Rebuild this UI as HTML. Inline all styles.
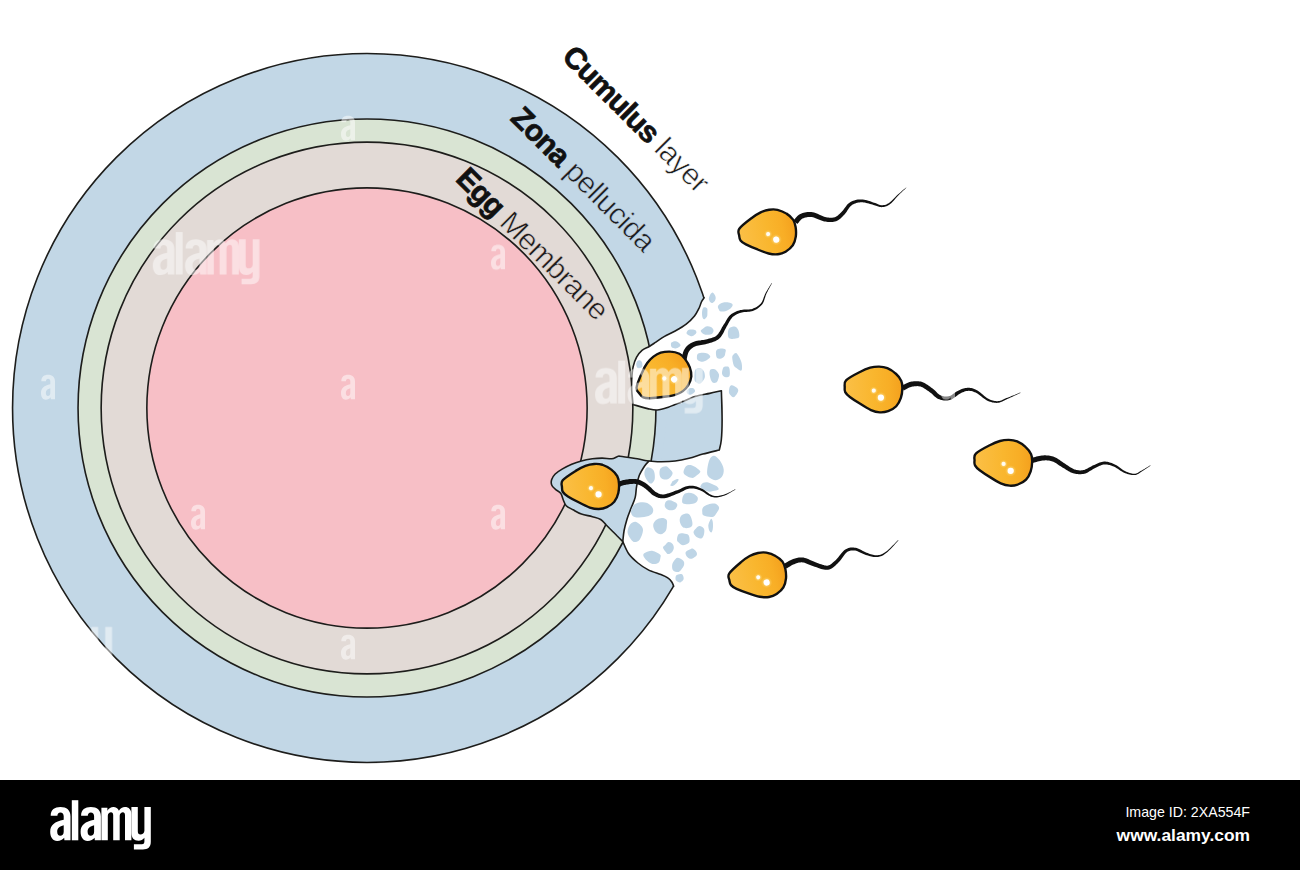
<!DOCTYPE html>
<html><head><meta charset="utf-8">
<style>
html,body{margin:0;padding:0;background:#fff;width:1300px;height:870px;overflow:hidden}
svg{display:block}
text{font-family:"Liberation Sans",sans-serif}
</style></head>
<body>
<svg width="1300" height="870" viewBox="0 0 1300 870">
<defs>
<linearGradient id="hg" x1="-35" y1="0" x2="24" y2="0" gradientUnits="userSpaceOnUse">
<stop offset="0" stop-color="#fbc048"/><stop offset="0.5" stop-color="#f9b62e"/><stop offset="0.75" stop-color="#f8ae26"/><stop offset="1" stop-color="#f39e1c"/>
</linearGradient>
<radialGradient id="glow"><stop offset="0" stop-color="#fff3c0" stop-opacity="0.9"/><stop offset="1" stop-color="#fde08a" stop-opacity="0"/></radialGradient>
<g id="head"><path d="M-33.4,-2.7C-33.2,-4.6 -34.5,-7 -32,-9.4C-29.6,-11.8 -22.4,-15.3 -18.5,-17.2C-14.6,-19.2 -11.7,-20.3 -8.6,-21.1C-5.5,-21.9 -2.7,-22.1 0,-22C2.7,-21.9 5.3,-21.5 7.9,-20.4C10.5,-19.2 13.6,-17.2 15.8,-15.1C18,-13.1 20,-10.3 21.1,-7.9C22.1,-5.5 22.1,-3.4 22,-0.7C21.9,2.1 21.4,5.6 20.4,8.5C19.4,11.3 17.9,14.3 15.8,16.4C13.8,18.5 10.6,20 7.9,21C5.3,21.9 2.7,22.2 0,22C-2.7,21.8 -5.5,21 -8.6,19.6C-11.6,18.2 -15.1,15.9 -18.4,13.7C-21.8,11.6 -26.2,8.6 -28.6,6.7C-31.1,4.7 -32.2,3.5 -33,1.9C-33.8,0.4 -33.6,-0.8 -33.4,-2.7Z" fill="url(#hg)" stroke="#111" stroke-width="2.3"/>
<circle cx="-5.5" cy="1" r="4" fill="url(#glow)"/><circle cx="1.2" cy="7.8" r="5.5" fill="url(#glow)"/>
<circle cx="-5.5" cy="1" r="2" fill="#fff" opacity="0.9"/><circle cx="1.2" cy="7.8" r="3" fill="#fff"/></g>
</defs>
<defs><g id="logo"><path d="M0.5,-24.5C0.5,-30.5 4.5,-33.2 10.2,-33.2C16.5,-33.2 20.3,-30 20.3,-24L20.3,0L14.2,0L14,-2.5C12.5,-0.5 10,0.6 7,0.6C2.5,0.6 0,-3 0,-8.5C0,-15.5 4.5,-18.5 13.5,-20.5L13.5,-24C13.5,-26.5 12.2,-27.8 10.2,-27.8C8.2,-27.8 7.2,-26.5 7.2,-24.5ZM13.5,-15C9.5,-14 7,-12.5 7,-8.5C7,-5.8 8.3,-4.5 10,-4.5C12,-4.5 13.5,-6 13.5,-8.5Z" fill-rule="evenodd"/><path d="M0,-40.1L6.5,-40.1L6.5,0L0,0Z" transform="translate(21.6 0)"/><path d="M0.5,-24.5C0.5,-30.5 4.5,-33.2 10.2,-33.2C16.5,-33.2 20.3,-30 20.3,-24L20.3,0L14.2,0L14,-2.5C12.5,-0.5 10,0.6 7,0.6C2.5,0.6 0,-3 0,-8.5C0,-15.5 4.5,-18.5 13.5,-20.5L13.5,-24C13.5,-26.5 12.2,-27.8 10.2,-27.8C8.2,-27.8 7.2,-26.5 7.2,-24.5ZM13.5,-15C9.5,-14 7,-12.5 7,-8.5C7,-5.8 8.3,-4.5 10,-4.5C12,-4.5 13.5,-6 13.5,-8.5Z" fill-rule="evenodd" transform="translate(30.4 0)"/><path d="M0,0L0,-32.5L6,-32.5L6,-29.5C7.5,-32 9.5,-33.2 12,-33.2C14.5,-33.2 16.5,-32 17.5,-29.5C19,-32 21,-33.2 23.5,-33.2C27.5,-33.2 30,-30.5 30,-26L30,0L23.6,0L23.6,-25C23.6,-27 22.8,-28 21.5,-28C20,-28 18.3,-26.8 18.3,-24.5L18.3,0L11.8,0L11.8,-25C11.8,-27 11,-28 9.6,-28C8,-28 6.4,-26.8 6.4,-24.5L6.4,0Z" transform="translate(51.2 0)"/><path d="M0,-33.2L6.4,-33.2L6.4,-9C6.4,-6.8 7.4,-5.8 9,-5.8C11,-5.8 13,-7.2 13,-9.5L13,-33.2L19.4,-33.2L19.4,1.5C19.4,7 16.5,9.2 11.5,9.2L2.5,9.2L2.5,4L10.5,4C12.3,4 13,3 13,1L13,-2.5C11.5,-0.5 9.5,0.5 7.2,0.5C2.5,0.5 0,-2.5 0,-7.5Z" transform="translate(81.2 0)"/></g><path id="ga" d="M0.5,-24.5C0.5,-30.5 4.5,-33.2 10.2,-33.2C16.5,-33.2 20.3,-30 20.3,-24L20.3,0L14.2,0L14,-2.5C12.5,-0.5 10,0.6 7,0.6C2.5,0.6 0,-3 0,-8.5C0,-15.5 4.5,-18.5 13.5,-20.5L13.5,-24C13.5,-26.5 12.2,-27.8 10.2,-27.8C8.2,-27.8 7.2,-26.5 7.2,-24.5ZM13.5,-15C9.5,-14 7,-12.5 7,-8.5C7,-5.8 8.3,-4.5 10,-4.5C12,-4.5 13.5,-6 13.5,-8.5Z" fill-rule="evenodd"/></defs>
<rect width="1300" height="870" fill="#fff"/>
<g stroke="#1d1d1b" stroke-width="1.6">
<circle cx="367.0" cy="408.0" r="354.45" fill="#c2d7e6"/>
<circle cx="367.0" cy="408.0" r="288.95" fill="#d9e4d3"/>
<circle cx="367.0" cy="408.0" r="265.85" fill="#e2dad6"/>
<circle cx="367.0" cy="408.0" r="220.15" fill="#f7bfc6"/>
</g>
<path d="M704.1,297.9C703.6,298.6 702.2,300.4 701.4,302C700.6,303.6 700.4,305.3 699.3,307.6C698.1,309.9 696.7,313.1 694.5,315.9C692.3,318.6 689.4,321.6 686.2,324.1C683,326.6 678.9,328.9 675.2,331C671.5,333.1 667.3,334.8 664.1,336.6C660.9,338.5 658.3,340.5 655.9,342.1C653.5,343.7 652,344.8 649.7,346.2C647.4,347.6 644.2,348.5 642,350.3C639.8,352.1 638.1,354.4 636.6,357.2C635.1,360 633.9,363.2 633.1,366.9C632.3,370.6 631.9,375.4 631.7,379.3C631.5,383.2 631.6,386.9 631.7,390.3C631.9,393.8 632.4,397.6 632.6,400C632.8,402.4 633,403.8 633.1,404.5C635.5,405.2 643.6,407.7 647.6,408.6C651.6,409.5 653.8,410.2 657.2,410C660.7,409.8 664.1,408.6 668.3,407.2C672.4,405.8 677.5,403.5 682.1,401.7C686.7,399.9 691.3,397.6 695.9,396.2C700.5,394.8 705.5,394.3 709.7,393.4C714,392.5 719.5,391.1 721.4,390.7L770,390.7L770,297.9Z" fill="#fff"/>
<path d="M719.3,450C716.5,450.7 707.8,452.7 702.8,454.1C697.8,455.5 693.6,457.2 689,458.3C684.4,459.4 679.8,460.4 675.2,461C670.6,461.6 665.8,461.7 661.4,461.7C657,461.7 651.1,461.1 649,461C648.3,461.8 646.4,463.3 644.8,465.7C643.2,468.1 640.7,471.9 639.3,475.3C637.9,478.8 637.3,482.7 636.6,486.4C635.9,490.1 636.1,493.7 635.2,497.4C634.3,501.1 632.4,504.7 631,508.4C629.6,512.1 628,515.8 626.9,519.5C625.8,523.2 624.8,526.8 624.1,530.5C623.4,534.2 623,539.8 622.8,541.6C623.8,543.6 626.2,550.2 628.7,553.8C631.2,557.4 634.6,560.3 637.9,563C641.2,565.7 644.5,568 648.3,569.9C652.1,571.8 657.6,573.2 660.9,574.5C664.1,575.8 666,576.6 667.8,577.9C669.6,579.1 670.8,580.6 671.8,582C672.8,583.4 673.3,585.3 673.6,586L780,586L780,450Z" fill="#fff"/>
<path d="M668.3,407.2C670.6,406.3 677.5,403.5 682.1,401.7C686.7,399.9 691.3,397.6 695.9,396.2C700.5,394.8 705.5,394.3 709.7,393.4C714,392.5 719.5,391.1 721.4,390.7C721.5,395.6 722.1,411.8 722.1,420C722.1,428.2 721.8,435 721.3,440C720.8,445 719.6,448.3 719.3,450C716.5,450.7 707.8,452.7 702.8,454.1C697.8,455.5 693.6,457.2 689,458.3C684.4,459.4 679.8,460.4 675.2,461C670.6,461.6 663.7,461.6 661.4,461.7Z" fill="#c2d7e6"/>
<path d="M649,461C646.5,460.6 638.6,459.1 633.8,458.3C629,457.5 622.8,456.5 620,456.2C617.2,455.9 618.6,456.3 617.2,456.7C615.8,457.1 614.2,458.6 611.7,458.8C609.2,459 605.3,458.1 602.1,458.1C598.9,458.1 595.9,458.3 592.4,458.8C588.9,459.3 584.8,460 581.4,460.9C578,461.8 574.9,462.9 571.7,464.3C568.5,465.7 564.9,467.5 562.1,469.1C559.4,470.7 556.9,472.3 555.2,474C553.5,475.7 552.3,477.7 551.7,479.5C551.1,481.3 551.1,483.4 551.7,485C552.3,486.6 553.7,487.7 555.2,489.1C556.7,490.5 559.3,491.5 560.7,493.3C562.1,495.1 562.5,498.1 563.4,500.2C564.3,502.3 564.6,504.1 566.2,505.7C567.8,507.3 570.6,508.4 573.1,509.8C575.6,511.2 578.2,512.9 581.4,514C584.6,515.1 589.2,515.8 592.4,516.7C595.6,517.6 598.4,518.1 600.7,519.5C603,520.9 604.4,523.2 606.2,525C608,526.8 609.9,528.7 611.7,530.5C613.5,532.3 615.4,534.1 617.2,536C619.1,537.9 621.9,540.7 622.8,541.6C623,539.8 623.4,534.2 624.1,530.5C624.8,526.8 625.8,523.2 626.9,519.5C628,515.8 629.6,512.1 631,508.4C632.4,504.7 634.3,501.1 635.2,497.4C636.1,493.7 635.9,490.1 636.6,486.4C637.3,482.7 637.9,478.8 639.3,475.3C640.7,471.9 643.2,468.1 644.8,465.7C646.4,463.3 648.3,461.8 649,461Z" fill="#c2d7e6" stroke="#1d1d1b" stroke-width="1.6" stroke-linejoin="round"/>
<g fill="none" stroke="#1d1d1b" stroke-width="1.6" stroke-linejoin="round" stroke-linecap="round">
<path d="M704.1,297.9C703.6,298.6 702.2,300.4 701.4,302C700.6,303.6 700.4,305.3 699.3,307.6C698.1,309.9 696.7,313.1 694.5,315.9C692.3,318.6 689.4,321.6 686.2,324.1C683,326.6 678.9,328.9 675.2,331C671.5,333.1 667.3,334.8 664.1,336.6C660.9,338.5 658.3,340.5 655.9,342.1C653.5,343.7 652,344.8 649.7,346.2C647.4,347.6 644.2,348.5 642,350.3C639.8,352.1 638.1,354.4 636.6,357.2C635.1,360 633.9,363.2 633.1,366.9C632.3,370.6 631.9,375.4 631.7,379.3C631.5,383.2 631.6,386.9 631.7,390.3C631.9,393.8 632.4,397.6 632.6,400C632.8,402.4 633,403.8 633.1,404.5"/>
<path d="M633.1,404.5C635.5,405.2 643.6,407.7 647.6,408.6C651.6,409.5 653.8,410.2 657.2,410C660.7,409.8 664.1,408.6 668.3,407.2C672.4,405.8 677.5,403.5 682.1,401.7C686.7,399.9 691.3,397.6 695.9,396.2C700.5,394.8 705.5,394.3 709.7,393.4C714,392.5 719.5,391.1 721.4,390.7C721.5,395.6 722.1,411.8 722.1,420C722.1,428.2 721.8,435 721.3,440C720.8,445 719.6,448.3 719.3,450C716.5,450.7 707.8,452.7 702.8,454.1C697.8,455.5 693.6,457.2 689,458.3C684.4,459.4 679.8,460.4 675.2,461C670.6,461.6 665.8,461.7 661.4,461.7C657,461.7 651.1,461.1 649,461"/>
<path d="M622.8,541.6C623.8,543.6 626.2,550.2 628.7,553.8C631.2,557.4 634.6,560.3 637.9,563C641.2,565.7 644.5,568 648.3,569.9C652.1,571.8 657.6,573.2 660.9,574.5C664.1,575.8 666,576.6 667.8,577.9C669.6,579.1 670.8,580.6 671.8,582C672.8,583.4 673.3,585.3 673.6,586"/>
</g>
<g fill="#bed5e6">
<path d="M715.7,297.9C715.7,299 715.1,300.5 714.6,301.3C714,302.1 713.1,302.8 712.4,302.9C711.6,303 710.7,302.8 710.2,302.1C709.6,301.4 708.9,299.9 708.8,298.8C708.8,297.7 709.3,296.5 709.8,295.4C710.4,294.4 711.5,292.8 712.3,292.6C713.1,292.4 713.9,293.6 714.5,294.5C715.1,295.4 715.7,296.7 715.7,297.9Z"/>
<path d="M732.6,304.5C733,305.5 731.7,307.4 730.5,308.5C729.3,309.6 727,310.7 725.3,311.2C723.7,311.7 721.8,311.7 720.8,311.5C719.7,311.3 719.4,310.6 719,309.7C718.5,308.8 717.4,307.1 718,305.9C718.6,304.8 720.7,303.4 722.5,302.8C724.2,302.3 726.9,302.2 728.6,302.5C730.3,302.7 732.3,303.5 732.6,304.5Z"/>
<path d="M707.4,313.4C707.4,314.7 707.4,315.7 707,316.6C706.5,317.6 705.3,319 704.6,319.2C703.9,319.4 703.2,318.9 702.7,317.9C702.3,316.9 702,315 702,313.4C702,311.8 702.3,309.4 702.8,308.4C703.2,307.4 703.8,307.1 704.6,307.2C705.3,307.2 706.7,307.6 707.2,308.6C707.7,309.6 707.4,312 707.4,313.4Z"/>
<path d="M696.4,332.8C696.2,333.6 695.1,334.4 694.3,335C693.6,335.5 692.8,336.2 691.8,336.2C690.9,336.2 689.5,335.7 688.6,335.2C687.7,334.7 686.5,334 686.5,333.1C686.5,332.2 687.4,330.6 688.4,330C689.3,329.4 691,329.4 692.2,329.5C693.4,329.5 694.9,329.8 695.5,330.3C696.2,330.9 696.6,332 696.4,332.8Z"/>
<path d="M713.5,330.1C713.7,331.2 713.1,332.9 712.2,333.7C711.3,334.4 709.4,334.6 708,334.7C706.7,334.8 705.2,334.9 704,334.2C702.8,333.6 700.7,331.9 700.7,330.9C700.6,329.8 702.7,328.7 703.8,327.9C704.8,327.2 705.8,326.5 707,326.3C708.2,326.2 709.8,326.4 710.9,327C712,327.6 713.3,329 713.5,330.1Z"/>
<path d="M739.1,332.8C739.3,334.2 739.7,336.3 739,337.3C738.2,338.3 736,338.7 734.4,338.8C732.8,339 730.3,339 729.2,338.2C728.1,337.4 727.9,335.7 727.9,334C727.9,332.4 728,329.7 729.1,328.5C730.2,327.2 733,326.6 734.4,326.6C735.9,326.7 736.9,327.9 737.7,328.9C738.4,329.9 738.9,331.4 739.1,332.8Z"/>
<path d="M680.4,345.7C680,346.5 678.1,347.6 677.2,348C676.3,348.5 675.9,348.5 675,348.4C674.1,348.3 672.4,347.9 671.7,347.2C671,346.5 670.9,345 670.9,344.2C671,343.3 671.1,342.7 671.9,342.3C672.7,341.8 674.4,341.1 675.7,341.3C676.9,341.5 678.7,342.6 679.5,343.4C680.3,344.1 680.8,345 680.4,345.7Z"/>
<path d="M710.3,356.7C710.3,357.8 708.6,358.9 707.3,359.7C706,360.6 704.1,361.7 702.5,361.8C700.9,361.8 698.6,360.7 697.7,359.9C696.7,359.1 696.9,357.9 696.9,356.8C697,355.8 697,354.4 697.9,353.7C698.9,353 701.1,352.7 702.6,352.7C704.2,352.6 706,352.8 707.3,353.5C708.5,354.1 710.3,355.7 710.3,356.7Z"/>
<path d="M725.3,353.1C725.1,354.2 725.2,355.2 724.5,356.1C723.9,357 722.5,358.1 721.3,358.4C720.1,358.7 718,358.9 717.1,358.1C716.2,357.2 716,354.5 715.9,353.1C715.9,351.8 716.1,350.7 716.8,350C717.6,349.2 719.1,348.7 720.5,348.6C721.9,348.5 724.7,348.7 725.5,349.4C726.3,350.2 725.4,352 725.3,353.1Z"/>
<path d="M740.8,360.4C741.7,362.5 741.9,364.2 742,365.9C742.1,367.6 742.1,370.1 741.3,370.6C740.5,371 738.3,369.4 737.1,368.5C735.8,367.7 734.6,367.4 733.8,365.6C733,363.8 732.3,359.3 732.2,357.5C732.2,355.6 732.9,355.1 733.6,354.4C734.4,353.7 735.6,352.5 736.8,353.5C738,354.5 739.9,358.3 740.8,360.4Z"/>
<path d="M704.9,376.8C704.8,378.4 704,379.4 703.2,380.6C702.3,381.7 701.2,383.7 699.9,383.8C698.5,384 696.1,382.8 695.2,381.5C694.3,380.3 694.4,378.3 694.4,376.3C694.5,374.3 694.5,370.9 695.4,369.6C696.3,368.2 698.5,367.8 699.9,368.1C701.3,368.3 702.9,369.6 703.7,371C704.6,372.5 705,375.2 704.9,376.8Z"/>
<path d="M719,374.6C719.3,376.1 718.6,378.3 718.1,379.6C717.7,380.9 717.2,382.1 716.3,382.5C715.3,382.9 713.4,383.4 712.3,382.3C711.2,381.2 710.2,377.9 709.8,375.8C709.4,373.8 709.4,371.2 710.1,370C710.8,368.9 712.9,369 713.9,369.1C714.9,369.2 715.5,369.6 716.4,370.5C717.2,371.4 718.7,373.1 719,374.6Z"/>
<path d="M729.8,371.5C729.9,372.9 730,375.3 729.3,376.3C728.6,377.2 726.8,377.3 725.8,377.2C724.7,377.1 723.6,376.6 723,375.8C722.3,375.1 721.9,374 722,372.6C722.1,371.2 722.8,368.3 723.5,367.3C724.3,366.3 725.6,366.6 726.5,366.6C727.4,366.6 728.4,366.6 729,367.4C729.5,368.2 729.8,370 729.8,371.5Z"/>
<path d="M738.2,390.9C738,392.2 736.7,394.3 735.8,395.3C735,396.4 734.2,397.4 733.3,397.3C732.3,397.1 730.6,395.3 729.9,394.4C729.2,393.4 728.9,393 728.9,391.7C728.9,390.4 729.3,387.7 729.9,386.6C730.5,385.5 731.4,385.2 732.6,385.4C733.7,385.6 736.1,386.9 737.1,387.9C738,388.8 738.4,389.7 738.2,390.9Z"/>
<path d="M695.1,391C695.1,391.8 694.5,392.4 693.7,393C692.9,393.6 691.4,394.5 690.4,394.7C689.4,394.8 688.4,394.4 687.7,393.9C687.1,393.3 686.4,392.1 686.5,391.3C686.7,390.4 688,389.4 688.7,388.8C689.4,388.3 689.9,388.1 690.7,388.1C691.6,388 693,388.1 693.7,388.6C694.4,389.1 695.1,390.3 695.1,391Z"/>
<path d="M642.3,363.7C642.5,364.7 642.5,366.3 642.1,367.1C641.6,367.8 640.4,368.3 639.6,368.3C638.8,368.4 637.7,368.1 637.1,367.4C636.6,366.7 636.2,365.2 636.2,364.1C636.3,363 636.9,361.5 637.4,360.9C638,360.2 638.9,360.2 639.5,360.3C640.2,360.3 640.9,360.6 641.3,361.2C641.8,361.7 642.2,362.7 642.3,363.7Z"/>
<path d="M654.3,472.2C654.8,474 655.1,477.3 654.7,479.2C654.2,481 652.8,482.9 651.7,483.4C650.7,483.9 649.6,483.1 648.4,481.9C647.2,480.7 645.4,478 644.8,476.1C644.2,474.2 644.3,472.1 644.8,470.6C645.2,469.2 646.2,467.6 647.4,467.3C648.6,466.9 650.7,467.8 651.8,468.6C653,469.4 653.9,470.5 654.3,472.2Z"/>
<path d="M672.6,473.4C672.4,474.8 670.7,477.1 669.6,478.1C668.4,479.2 667,479.6 665.6,479.6C664.2,479.5 662.1,479 661.1,478C660.1,476.9 659.5,475 659.5,473.4C659.4,471.8 659.6,469.5 660.7,468.3C661.9,467.1 664.6,466.1 666.2,466.3C667.8,466.6 669.3,468.6 670.4,469.8C671.5,471 672.7,472 672.6,473.4Z"/>
<path d="M700.4,471.8C700.3,473.2 697.3,475 696,476C694.6,477 693.9,477.8 692.5,477.9C691,477.9 688.7,477.2 687.2,476.3C685.7,475.4 683.7,474.2 683.5,472.5C683.3,470.9 684.8,467.5 686,466.3C687.2,465 689,464.7 690.7,465C692.5,465.3 695.1,466.8 696.7,467.9C698.3,469.1 700.5,470.5 700.4,471.8Z"/>
<path d="M723.7,469.4C724,472.1 723.1,475.2 721.7,477C720.2,478.8 717.4,480.4 715.1,480.3C712.9,480.1 709.3,477.9 708,476C706.7,474.1 707.1,471.8 707.3,469C707.6,466.2 708.6,461.4 709.7,459.2C710.9,457 712.5,455.6 714.2,455.8C715.9,456.1 718.3,458.4 719.9,460.6C721.5,462.9 723.4,466.6 723.7,469.4Z"/>
<path d="M678.4,479.2C678.7,479.4 678.7,479.9 678.2,480.7C677.8,481.4 676.6,483 675.8,483.8C675,484.7 674.1,485.4 673.2,485.7C672.3,486 670.7,486 670.3,485.6C670,485.3 670.9,484.4 671.3,483.6C671.7,482.9 672,481.8 672.8,481.1C673.6,480.4 675.1,479.7 676,479.4C677,479.1 678,479 678.4,479.2Z"/>
<path d="M718.6,489.6C718,490.4 714.7,490.8 713,491.1C711.3,491.4 710.4,492 708.4,491.5C706.4,491 702.2,488.9 700.9,487.9C699.7,486.9 700.4,486.2 700.8,485.4C701.2,484.5 702.2,483.2 703.4,482.7C704.7,482.2 706.2,481.9 708.3,482.4C710.5,483 714.7,484.9 716.4,486.1C718.1,487.3 719.1,488.8 718.6,489.6Z"/>
<path d="M697.7,497.4C698.2,498.9 697.5,501.4 696,502.6C694.6,503.7 691.5,504.2 689.3,504.3C687.1,504.4 684,504.2 682.9,503.3C681.7,502.3 682.1,500.2 682.3,498.7C682.6,497.2 683.2,495.2 684.2,494.2C685.2,493.2 686.8,492.8 688.4,492.7C689.9,492.6 691.9,493 693.5,493.7C695,494.5 697.3,496 697.7,497.4Z"/>
<path d="M677.3,505.2C677.2,506.3 676.1,508.4 675,509.3C673.9,510.1 672.1,510.4 670.7,510.3C669.3,510.2 667.7,509.6 666.7,508.9C665.7,508.1 664.8,507.1 664.7,505.8C664.6,504.6 665.1,502.3 666,501.4C666.9,500.5 668.5,500 670.1,500.2C671.6,500.4 674.4,501.8 675.6,502.6C676.8,503.5 677.4,504.1 677.3,505.2Z"/>
<path d="M652.9,508.4C653.6,510.2 653.2,512.6 651.8,514C650.3,515.5 647.1,516.6 644.2,517.1C641.3,517.6 636.7,517.8 634.5,516.9C632.3,516.1 631,514 631,511.9C630.9,509.9 632.5,506.4 634.2,504.8C635.9,503.2 638.8,502.6 640.9,502.3C643.1,502 645.2,502.1 647.2,503.1C649.2,504.1 652.1,506.6 652.9,508.4Z"/>
<path d="M719.1,507.8C719.3,509.3 717.7,511.4 716.6,512.9C715.5,514.4 714.6,516.4 712.5,516.9C710.3,517.4 705.5,516.4 703.7,515.6C702,514.8 702.4,513.4 702.3,512.1C702.1,510.7 702,508.6 703,507.4C704,506.1 706.1,505 708.2,504.4C710.3,503.8 713.8,503.2 715.6,503.8C717.4,504.4 718.9,506.3 719.1,507.8Z"/>
<path d="M692.3,521.9C692.6,523.9 692.5,525.5 691.5,526.6C690.5,527.6 687.9,528.2 686.3,528.2C684.8,528.2 683.5,528 682.4,526.8C681.3,525.6 679.9,522.7 679.7,520.9C679.5,519 680.2,517 681.2,515.8C682.1,514.6 683.7,513.8 685.1,513.7C686.6,513.5 688.6,513.5 689.8,514.9C691,516.2 692,520 692.3,521.9Z"/>
<path d="M666.9,524.6C666.8,526.5 666.8,529.2 665.8,530.8C664.8,532.4 662.6,534.2 660.8,534.3C659.1,534.4 656.7,533 655.4,531.5C654.1,529.9 653,526.9 653.2,525C653.3,523.1 654.7,521.2 656.1,520C657.6,518.9 660.2,518.1 661.9,518C663.6,518 665.7,518.6 666.5,519.7C667.4,520.8 667.1,522.7 666.9,524.6Z"/>
<path d="M643,530.6C642.8,533 641.2,537.6 639.8,539.5C638.5,541.4 636.3,542.1 634.8,542.1C633.3,542 632.1,540.9 630.9,539.2C629.7,537.6 627.6,534.5 627.5,532C627.5,529.5 629,525.9 630.3,524.2C631.7,522.5 633.7,521.5 635.5,521.7C637.2,521.9 639.6,524 640.9,525.5C642.1,527 643.2,528.3 643,530.6Z"/>
<path d="M713,525.2C713,526.5 713,528.1 712.7,529.4C712.4,530.6 711.8,532.4 711.2,532.5C710.6,532.6 709.6,531.3 709.1,530.2C708.6,529 708.3,526.7 708.3,525.3C708.4,524 709,522.9 709.4,521.8C709.9,520.8 710.6,519 711.1,518.8C711.7,518.7 712.3,520 712.6,521.1C712.9,522.2 713,523.8 713,525.2Z"/>
<path d="M704.2,533.1C704.1,534.5 703.5,536.3 702.8,537.2C702.2,538.1 701.4,538.7 700.2,538.6C699.1,538.5 697.1,537.6 695.9,536.6C694.8,535.5 693.5,533.6 693.5,532.3C693.5,530.9 694.9,529.5 696,528.5C697,527.5 698.3,526.1 699.6,526.1C700.9,526.1 703,527.4 703.8,528.6C704.6,529.7 704.4,531.6 704.2,533.1Z"/>
<path d="M689.6,539.5C689.6,540.9 689.7,542 688.6,543C687.5,543.9 684.6,545.2 683,545.2C681.5,545.2 680.2,543.9 679.2,543C678.2,542.2 677.1,541.5 677,540.1C676.9,538.6 677.4,535.4 678.5,534.3C679.6,533.2 682.2,533.3 683.8,533.4C685.5,533.5 687.5,533.9 688.4,534.9C689.4,535.9 689.6,538.2 689.6,539.5Z"/>
<path d="M673.8,548.1C673.7,549.4 673,550.9 672.1,551.9C671.2,552.9 669.3,554 668.2,554.1C667.2,554.2 666.8,553.4 666,552.3C665.1,551.2 663.1,548.8 663,547.5C663,546.2 664.6,545.6 665.5,544.7C666.5,543.7 667.4,542.2 668.6,542.1C669.8,541.9 671.7,542.9 672.6,543.9C673.5,544.9 673.9,546.7 673.8,548.1Z"/>
<path d="M696.8,555C696.3,556.1 694.3,557.6 693,558.2C691.7,558.8 690.4,559 689.3,558.5C688.2,558.1 686.8,556.6 686.2,555.5C685.6,554.4 685.2,553.1 685.8,552.1C686.4,551.1 688.5,550.2 689.7,549.6C690.8,549 691.6,548.2 692.7,548.5C693.7,548.8 695.4,550.4 696.1,551.5C696.8,552.6 697.3,553.9 696.8,555Z"/>
<path d="M660.4,557.8C660.2,559.2 659.8,561.8 658.5,562.8C657.1,563.8 654.5,564.4 652.4,563.9C650.3,563.3 647.2,561 645.7,559.4C644.2,557.9 642.9,555.9 643.3,554.6C643.6,553.2 646.4,552.2 648,551.6C649.7,551 651,550.5 652.9,550.9C654.9,551.4 658.7,553.3 660,554.5C661.2,555.6 660.7,556.4 660.4,557.8Z"/>
<path d="M684.1,564.7C683.8,566.1 682.9,567.4 682,568.6C681.1,569.8 680.2,571.6 678.7,571.9C677.3,572.2 674.3,571.5 673.2,570.4C672.1,569.3 672,567 672.1,565.4C672.2,563.9 673,562.2 673.9,561C674.8,559.7 676.1,557.9 677.6,557.8C679.2,557.8 682.2,559.6 683.3,560.7C684.4,561.9 684.3,563.4 684.1,564.7Z"/>
<path d="M683.5,579.6C683.1,580.7 681.4,582 680.4,582.4C679.5,582.8 678.7,582.2 677.9,581.7C677.1,581.3 676.1,580.8 675.7,579.9C675.4,578.9 675.4,577.1 675.8,576.2C676.2,575.3 677.2,574.8 678.1,574.5C679,574.1 680.5,573.8 681.4,574.1C682.2,574.3 682.7,574.8 683.1,575.7C683.4,576.6 684,578.5 683.5,579.6Z"/>
</g>
<path d="M797.3,224 L797.7,223.6 L798.2,223 L798.7,222.4 L799.2,221.7 L799.7,221 L800.3,220.4 L800.9,219.8 L801.5,219.2 L802,218.8 L802.6,218.5 L803.3,218.2 L804.1,217.9 L805,217.6 L805.9,217.4 L806.9,217.2 L807.9,217 L808.9,216.9 L810,216.9 L811,216.9 L811.9,217 L812.9,217.2 L813.9,217.5 L815,217.9 L816.2,218.4 L817.5,218.9 L818.7,219.5 L820.1,220.1 L821.4,220.6 L822.8,221.1 L824.1,221.4 L825.4,221.6 L826.6,221.8 L827.8,221.9 L829,222 L830.3,222 L831.5,222 L832.6,221.9 L833.8,221.7 L834.9,221.5 L836.1,221.2 L837.1,220.7 L838.1,220.2 L839.1,219.6 L839.9,218.9 L840.8,218.2 L841.5,217.5 L842.3,216.7 L843,216 L843.7,215.2 L844.5,214.4 L845.3,213.5 L846.1,212.5 L846.8,211.4 L847.5,210.3 L848.2,209.3 L848.9,208.3 L849.6,207.3 L850.3,206.5 L851,205.8 L851.8,205.2 L852.6,204.6 L853.4,204.2 L854.3,203.7 L855.3,203.4 L856.3,203 L857.3,202.8 L858.3,202.6 L859.4,202.4 L860.4,202.3 L861.5,202.2 L862.6,202.3 L863.7,202.4 L864.9,202.6 L866.2,202.9 L867.5,203.2 L868.8,203.6 L870,203.9 L871.2,204.3 L872.4,204.6 L873.5,204.9 L874.4,205.2 L875.2,205.4 L876,205.7 L876.8,206 L877.5,206.3 L878.3,206.6 L879,206.8 L879.8,207 L880.6,207.1 L881.5,207.2 L882.3,207.1 L883.1,207.1 L883.9,207 L884.7,206.8 L885.5,206.6 L886.3,206.3 L887.1,205.9 L887.9,205.5 L888.8,205 L889.6,204.4 L890.5,203.7 L891.5,202.9 L892.4,202 L893.4,201 L894.3,199.9 L895.3,198.8 L896.2,197.8 L897.1,196.8 L898,195.8 L898.8,194.9 L899.7,194.1 L900.5,193.3 L901.4,192.4 L902.3,191.6 L903.1,190.8 L903.9,190.1 L904.7,189.4 L905.3,188.8 L905.9,188.3 L906.3,187.8 L906.1,187.6 L905.6,187.9 L905,188.4 L904.3,189 L903.6,189.6 L902.7,190.3 L901.8,191.1 L900.9,191.9 L900,192.7 L899.1,193.5 L898.2,194.3 L897.3,195.1 L896.3,196 L895.4,197 L894.4,198 L893.4,199 L892.4,200 L891.4,201 L890.5,201.8 L889.6,202.6 L888.8,203.2 L887.9,203.6 L887.2,204.1 L886.4,204.4 L885.7,204.7 L885,204.9 L884.3,205 L883.6,205.1 L882.9,205.2 L882.2,205.2 L881.5,205.2 L880.9,205.2 L880.2,205 L879.6,204.9 L879,204.6 L878.3,204.4 L877.6,204 L876.9,203.7 L876,203.3 L875.1,203 L874.1,202.7 L873.1,202.4 L872,202 L870.8,201.6 L869.5,201.1 L868.2,200.7 L866.9,200.3 L865.5,200 L864.2,199.7 L862.8,199.5 L861.5,199.4 L860.3,199.4 L859.1,199.4 L857.8,199.6 L856.6,199.8 L855.5,200 L854.3,200.4 L853.1,200.8 L852,201.2 L850.9,201.8 L849.8,202.4 L848.8,203.2 L847.8,204.1 L846.9,205.1 L846.1,206.2 L845.3,207.2 L844.5,208.3 L843.8,209.3 L843.1,210.2 L842.4,211.1 L841.7,211.8 L841,212.5 L840.2,213.3 L839.5,214 L838.8,214.6 L838.1,215.2 L837.5,215.8 L836.8,216.2 L836.1,216.6 L835.5,217 L834.7,217.2 L834,217.4 L833.1,217.6 L832.2,217.7 L831.3,217.7 L830.3,217.7 L829.3,217.7 L828.3,217.5 L827.2,217.4 L826.1,217.2 L825.1,217 L824.1,216.7 L823,216.3 L821.9,215.8 L820.7,215.3 L819.4,214.7 L818.1,214.1 L816.8,213.5 L815.5,212.9 L814.1,212.5 L812.7,212.2 L811.3,212.1 L810,212 L808.7,212 L807.4,212.1 L806.1,212.3 L804.9,212.5 L803.7,212.8 L802.6,213.1 L801.5,213.5 L800.4,213.9 L799.3,214.5 L798.3,215.2 L797.4,216 L796.5,216.9 L795.8,217.7 L795.2,218.5 L794.6,219.2 L794.1,219.8 L793.7,220.2 L793.5,220.6Z" fill="#111"/>
<use href="#head" transform="translate(773.5 232.0) rotate(-11) scale(1.03)"/>
<path d="M903.7,390.4 L904.3,390.2 L905,389.8 L905.7,389.4 L906.5,389 L907.4,388.5 L908.3,388.1 L909.2,387.6 L910.1,387.3 L911,387 L911.7,386.8 L912.6,386.6 L913.5,386.4 L914.4,386.3 L915.4,386.2 L916.3,386.2 L917.2,386.1 L918.1,386.2 L919,386.3 L919.8,386.4 L920.7,386.6 L921.5,386.9 L922.4,387.3 L923.3,387.8 L924.3,388.4 L925.3,389 L926.3,389.7 L927.3,390.4 L928.3,391.1 L929.2,391.8 L930.1,392.4 L930.9,393 L931.6,393.6 L932.4,394.3 L933.1,395 L933.8,395.7 L934.6,396.4 L935.4,397.1 L936.3,397.8 L937.3,398.4 L938.3,398.9 L939.4,399.3 L940.4,399.7 L941.5,400 L942.7,400.2 L943.8,400.4 L945,400.5 L946.2,400.5 L947.4,400.5 L948.6,400.3 L949.8,400.1 L951,399.6 L952.3,399 L953.4,398.3 L954.5,397.6 L955.6,396.8 L956.6,396 L957.6,395.2 L958.5,394.5 L959.4,393.9 L960.3,393.4 L961.1,393 L962,392.6 L962.9,392.2 L963.7,391.9 L964.5,391.6 L965.3,391.3 L966.1,391.1 L966.9,391 L967.6,390.9 L968.4,390.8 L969.2,390.8 L970,390.9 L970.7,391 L971.5,391.1 L972.3,391.3 L973.1,391.6 L973.9,391.9 L974.8,392.2 L975.7,392.6 L976.5,393.1 L977.4,393.6 L978.4,394.2 L979.4,395 L980.4,395.8 L981.4,396.6 L982.5,397.5 L983.6,398.3 L984.7,399.1 L985.8,399.8 L986.9,400.4 L988,400.9 L989.1,401.4 L990.1,401.7 L991.2,402.1 L992.3,402.4 L993.3,402.6 L994.4,402.7 L995.5,402.8 L996.6,402.9 L997.7,402.8 L998.7,402.7 L999.8,402.4 L1000.8,402.1 L1001.8,401.7 L1002.8,401.2 L1003.8,400.7 L1004.8,400.2 L1005.8,399.7 L1006.8,399.2 L1007.9,398.7 L1009.1,398.2 L1010.5,397.6 L1011.9,396.9 L1013.4,396.2 L1014.8,395.5 L1016.2,394.9 L1017.6,394.3 L1018.7,393.7 L1019.7,393.2 L1020.5,392.9 L1020.3,392.5 L1019.5,392.8 L1018.5,393.2 L1017.3,393.7 L1016,394.3 L1014.5,394.9 L1013,395.5 L1011.5,396.1 L1010.1,396.7 L1008.7,397.2 L1007.5,397.7 L1006.4,398.1 L1005.3,398.6 L1004.2,399.1 L1003.2,399.5 L1002.2,400 L1001.3,400.4 L1000.3,400.7 L999.4,400.9 L998.5,401.1 L997.5,401.2 L996.6,401.2 L995.6,401.1 L994.7,401 L993.7,400.8 L992.7,400.6 L991.8,400.3 L990.8,399.9 L989.8,399.5 L988.8,399 L987.9,398.6 L986.9,398 L986,397.3 L985,396.5 L984,395.7 L983,394.8 L982,393.9 L980.9,393 L979.9,392.2 L978.9,391.4 L977.9,390.7 L976.9,390.2 L975.9,389.7 L975,389.3 L974.1,388.9 L973.1,388.6 L972.2,388.3 L971.3,388.1 L970.3,387.9 L969.4,387.8 L968.4,387.8 L967.4,387.8 L966.4,387.9 L965.5,388 L964.5,388.2 L963.5,388.5 L962.6,388.8 L961.7,389.1 L960.7,389.5 L959.7,389.9 L958.7,390.4 L957.7,390.9 L956.6,391.6 L955.5,392.3 L954.4,393.1 L953.4,393.8 L952.4,394.5 L951.4,395.2 L950.5,395.7 L949.6,396.1 L948.8,396.3 L948,396.5 L947.1,396.6 L946.2,396.6 L945.3,396.5 L944.4,396.4 L943.5,396.2 L942.6,396 L941.7,395.7 L940.8,395.4 L940.1,395.1 L939.4,394.7 L938.8,394.3 L938.2,393.8 L937.5,393.2 L936.9,392.6 L936.2,391.8 L935.5,391.1 L934.7,390.3 L933.8,389.5 L932.9,388.8 L931.9,388.1 L931,387.4 L930,386.6 L929,385.9 L927.9,385.1 L926.8,384.4 L925.7,383.7 L924.5,383 L923.3,382.4 L922.1,382 L920.9,381.6 L919.7,381.4 L918.5,381.3 L917.3,381.2 L916.1,381.2 L915,381.2 L913.9,381.3 L912.8,381.5 L911.7,381.6 L910.7,381.8 L909.5,382.1 L908.4,382.5 L907.2,382.9 L906.1,383.4 L905.1,383.9 L904.1,384.4 L903.3,384.8 L902.5,385.2 L901.9,385.5 L901.5,385.8Z" fill="#111"/>
<use href="#head" transform="translate(879.5 389.5) rotate(-1) scale(1.04)"/>
<path d="M1032.7,462.9 L1033.4,462.7 L1034.3,462.5 L1035.4,462.2 L1036.5,461.9 L1037.7,461.6 L1039,461.2 L1040.2,460.9 L1041.4,460.7 L1042.5,460.5 L1043.5,460.4 L1044.4,460.4 L1045.4,460.3 L1046.3,460.3 L1047.2,460.4 L1048.1,460.4 L1049,460.6 L1049.9,460.7 L1050.8,460.9 L1051.7,461.2 L1052.5,461.4 L1053.4,461.8 L1054.3,462.2 L1055.2,462.8 L1056.2,463.3 L1057.2,464 L1058.2,464.7 L1059.2,465.4 L1060.3,466.1 L1061.4,466.8 L1062.4,467.4 L1063.4,468 L1064.4,468.6 L1065.4,469.3 L1066.5,469.9 L1067.5,470.6 L1068.6,471.2 L1069.7,471.8 L1070.8,472.4 L1071.9,472.8 L1073.1,473.2 L1074.2,473.6 L1075.3,473.8 L1076.4,474 L1077.5,474.1 L1078.7,474.2 L1079.8,474.3 L1080.9,474.2 L1082.1,474.1 L1083.2,474 L1084.3,473.7 L1085.5,473.4 L1086.6,472.9 L1087.7,472.4 L1088.8,471.8 L1089.8,471.1 L1090.9,470.5 L1091.8,469.9 L1092.8,469.3 L1093.7,468.8 L1094.7,468.3 L1095.7,467.8 L1096.7,467.3 L1097.7,466.8 L1098.7,466.3 L1099.7,465.8 L1100.7,465.4 L1101.6,465 L1102.5,464.8 L1103.4,464.5 L1104.3,464.4 L1105.2,464.4 L1106.1,464.4 L1107,464.5 L1108,464.7 L1108.9,464.9 L1109.9,465.1 L1110.8,465.4 L1111.8,465.8 L1112.8,466.2 L1113.8,466.6 L1114.8,467 L1115.7,467.6 L1116.7,468.2 L1117.8,468.8 L1118.8,469.6 L1119.8,470.3 L1120.9,471 L1122,471.6 L1123,472.2 L1124.1,472.7 L1125.2,473.2 L1126.3,473.6 L1127.3,473.9 L1128.4,474.3 L1129.5,474.5 L1130.6,474.8 L1131.6,475 L1132.7,475.1 L1133.7,475.1 L1134.7,475.1 L1135.6,474.9 L1136.5,474.7 L1137.3,474.3 L1138.1,473.9 L1138.9,473.5 L1139.6,473 L1140.3,472.5 L1141,472 L1141.8,471.5 L1142.5,471 L1143.3,470.5 L1144.2,469.9 L1145.1,469.3 L1146.1,468.7 L1147,468.1 L1147.9,467.5 L1148.7,466.9 L1149.4,466.4 L1150,466 L1150.5,465.7 L1150.3,465.3 L1149.8,465.6 L1149.2,466 L1148.4,466.5 L1147.6,467 L1146.7,467.6 L1145.7,468.1 L1144.8,468.7 L1143.8,469.2 L1142.9,469.8 L1142.1,470.2 L1141.3,470.7 L1140.5,471.1 L1139.8,471.6 L1139,472.1 L1138.3,472.5 L1137.6,472.9 L1136.8,473.2 L1136.1,473.5 L1135.3,473.7 L1134.5,473.7 L1133.7,473.7 L1132.8,473.7 L1131.9,473.5 L1130.9,473.3 L1129.9,473 L1128.9,472.7 L1127.9,472.3 L1126.9,471.9 L1125.9,471.5 L1124.9,471.1 L1123.9,470.6 L1123,470 L1122,469.3 L1121,468.6 L1120,467.8 L1119,467.1 L1118,466.3 L1116.9,465.6 L1115.9,465 L1114.8,464.4 L1113.8,463.9 L1112.7,463.5 L1111.7,463.1 L1110.7,462.7 L1109.6,462.4 L1108.5,462.1 L1107.4,461.8 L1106.4,461.7 L1105.2,461.6 L1104.1,461.6 L1102.9,461.7 L1101.8,461.9 L1100.7,462.2 L1099.6,462.6 L1098.5,463 L1097.4,463.5 L1096.4,463.9 L1095.3,464.4 L1094.3,464.9 L1093.3,465.3 L1092.2,465.8 L1091.2,466.4 L1090.1,466.9 L1089.1,467.5 L1088.1,468.1 L1087.1,468.7 L1086.1,469.1 L1085.2,469.6 L1084.3,469.9 L1083.5,470.1 L1082.6,470.2 L1081.7,470.3 L1080.8,470.4 L1079.8,470.4 L1078.9,470.3 L1078,470.2 L1077.1,470.1 L1076.2,469.9 L1075.2,469.6 L1074.3,469.4 L1073.5,469 L1072.6,468.6 L1071.7,468.1 L1070.7,467.6 L1069.8,466.9 L1068.8,466.3 L1067.8,465.6 L1066.8,464.9 L1065.8,464.2 L1064.8,463.6 L1063.8,463 L1062.8,462.3 L1061.8,461.6 L1060.8,460.9 L1059.8,460.1 L1058.8,459.4 L1057.7,458.7 L1056.6,458.1 L1055.4,457.5 L1054.3,457 L1053.1,456.5 L1052,456.2 L1050.9,455.9 L1049.8,455.7 L1048.7,455.6 L1047.6,455.4 L1046.5,455.4 L1045.4,455.3 L1044.3,455.3 L1043.1,455.4 L1041.9,455.5 L1040.5,455.7 L1039.1,456 L1037.8,456.3 L1036.4,456.6 L1035.2,456.9 L1034,457.2 L1033,457.5 L1032.1,457.7 L1031.5,457.9Z" fill="#111"/>
<use href="#head" transform="translate(1009.3 462.8) rotate(-1) scale(1.04)"/>
<path d="M786.5,568.5 L787,568.2 L787.7,567.7 L788.5,567.3 L789.4,566.7 L790.3,566.2 L791.3,565.6 L792.2,565.1 L793.2,564.6 L794.1,564.2 L794.9,563.9 L795.7,563.6 L796.5,563.3 L797.3,563 L798.1,562.8 L798.8,562.6 L799.6,562.5 L800.3,562.4 L801.1,562.3 L801.9,562.3 L802.7,562.4 L803.6,562.6 L804.6,562.8 L805.7,563.2 L806.9,563.7 L808.1,564.2 L809.4,564.7 L810.7,565.3 L812,565.8 L813.4,566.3 L814.7,566.7 L815.9,567.1 L817.2,567.6 L818.4,568 L819.8,568.4 L821.1,568.9 L822.4,569.3 L823.8,569.6 L825.2,569.8 L826.6,569.8 L828,569.7 L829.3,569.4 L830.5,569 L831.6,568.4 L832.7,567.8 L833.7,567 L834.6,566.2 L835.5,565.4 L836.4,564.6 L837.3,563.7 L838.2,562.8 L839.2,561.8 L840.1,560.7 L841.1,559.4 L842,558.2 L842.9,556.9 L843.8,555.7 L844.7,554.6 L845.5,553.6 L846.3,552.7 L847.1,552.1 L847.9,551.6 L848.6,551.2 L849.4,550.9 L850.1,550.7 L850.9,550.5 L851.7,550.4 L852.5,550.4 L853.4,550.4 L854.3,550.5 L855.2,550.6 L856.1,550.7 L857,551 L858,551.4 L859,551.9 L860.1,552.4 L861.2,552.9 L862.4,553.5 L863.5,554 L864.7,554.5 L865.8,554.9 L866.9,555.2 L868,555.5 L869.1,555.9 L870.3,556.2 L871.4,556.5 L872.5,556.8 L873.6,557 L874.8,557.1 L875.9,557.1 L877,557.1 L878,557 L879,556.8 L879.9,556.5 L880.8,556.2 L881.7,555.9 L882.7,555.4 L883.6,554.9 L884.5,554.3 L885.5,553.6 L886.6,552.8 L887.8,551.8 L889,550.6 L890.4,549.2 L891.8,547.7 L893.2,546.2 L894.6,544.7 L895.8,543.3 L897,542 L897.9,540.9 L898.6,540.1 L898.4,539.9 L897.6,540.6 L896.6,541.6 L895.4,542.8 L894.1,544.2 L892.6,545.6 L891.2,547.1 L889.7,548.5 L888.3,549.8 L887,550.9 L885.8,551.8 L884.8,552.5 L883.8,553.1 L882.9,553.7 L882,554.1 L881.2,554.5 L880.3,554.7 L879.5,555 L878.6,555.1 L877.8,555.3 L876.8,555.3 L875.9,555.3 L874.9,555.2 L874,555.1 L872.9,554.8 L871.9,554.6 L870.8,554.2 L869.8,553.9 L868.7,553.5 L867.6,553.1 L866.6,552.7 L865.5,552.3 L864.5,551.8 L863.5,551.3 L862.4,550.7 L861.3,550.1 L860.2,549.5 L859.1,549 L857.9,548.5 L856.8,548.1 L855.6,547.8 L854.6,547.7 L853.6,547.6 L852.5,547.5 L851.5,547.5 L850.5,547.6 L849.5,547.7 L848.4,548 L847.4,548.4 L846.4,548.9 L845.3,549.5 L844.2,550.3 L843.2,551.3 L842.1,552.4 L841.2,553.6 L840.2,554.8 L839.2,556.1 L838.3,557.2 L837.4,558.3 L836.5,559.3 L835.6,560.2 L834.7,561 L833.8,561.8 L832.9,562.6 L832.1,563.3 L831.3,563.9 L830.5,564.5 L829.7,564.9 L829,565.3 L828.2,565.5 L827.4,565.7 L826.6,565.7 L825.7,565.6 L824.7,565.4 L823.6,565.1 L822.4,564.8 L821.2,564.3 L819.9,563.9 L818.7,563.4 L817.4,562.9 L816.1,562.5 L814.9,562 L813.8,561.6 L812.5,561 L811.3,560.4 L810,559.9 L808.7,559.3 L807.4,558.7 L806.1,558.3 L804.8,557.9 L803.5,557.6 L802.2,557.4 L801.1,557.4 L799.9,557.4 L798.8,557.6 L797.8,557.7 L796.8,558 L795.9,558.2 L795,558.5 L794.1,558.8 L793.1,559.1 L792.1,559.5 L791,560 L789.9,560.6 L788.8,561.1 L787.7,561.7 L786.8,562.3 L785.9,562.8 L785.1,563.3 L784.4,563.7 L783.9,563.9Z" fill="#111"/>
<use href="#head" transform="translate(763.5 575.0) rotate(-14) scale(1.03)"/>
<path d="M686.3,360.9 L686.5,360.2 L686.7,359.3 L686.9,358.3 L687.1,357.3 L687.3,356.2 L687.6,355.1 L687.9,354 L688.2,353 L688.6,352.2 L688.9,351.5 L689.4,350.9 L689.8,350.3 L690.3,349.7 L690.8,349.2 L691.4,348.7 L692,348.2 L692.7,347.7 L693.4,347.3 L694.3,346.8 L695.1,346.4 L696,346.1 L697.1,345.8 L698.4,345.5 L699.7,345.2 L701.1,345 L702.6,344.7 L704.1,344.4 L705.5,344.2 L707,343.8 L708.3,343.4 L709.5,343.1 L710.6,342.7 L711.8,342.4 L712.9,342 L714.1,341.6 L715.2,341.2 L716.3,340.6 L717.4,340 L718.5,339.2 L719.6,338.3 L720.6,337.2 L721.5,336 L722.3,334.7 L723.1,333.4 L723.9,332 L724.5,330.6 L725.2,329.3 L725.9,328 L726.5,326.8 L727.1,325.7 L727.7,324.7 L728.3,323.6 L728.9,322.6 L729.4,321.6 L729.9,320.7 L730.4,319.9 L730.9,319.1 L731.5,318.4 L732,317.7 L732.6,317 L733.3,316.5 L734,315.9 L734.8,315.4 L735.5,314.9 L736.4,314.5 L737.2,314.1 L738.1,313.7 L739,313.3 L740,313 L740.9,312.7 L741.9,312.4 L743,312.3 L744.1,312.1 L745.4,312 L746.6,311.9 L747.9,311.8 L749.2,311.7 L750.4,311.5 L751.7,311.3 L752.8,310.9 L753.9,310.5 L755,310 L756,309.4 L757,308.9 L758,308.2 L758.9,307.6 L759.8,306.8 L760.6,306.1 L761.4,305.3 L762.1,304.4 L762.8,303.4 L763.3,302.4 L763.8,301.4 L764.2,300.3 L764.6,299.1 L764.9,298 L765.3,296.9 L765.6,295.8 L766,294.7 L766.5,293.6 L767,292.5 L767.6,291.4 L768.2,290.1 L768.9,288.9 L769.5,287.7 L770.2,286.6 L770.8,285.5 L771.3,284.5 L771.7,283.7 L772.1,283.1 L771.7,282.9 L771.4,283.5 L770.9,284.3 L770.3,285.2 L769.6,286.3 L768.9,287.4 L768.2,288.5 L767.5,289.7 L766.8,290.9 L766.1,292.1 L765.5,293.2 L765,294.3 L764.5,295.4 L764.1,296.5 L763.7,297.6 L763.3,298.7 L762.9,299.8 L762.5,300.8 L762,301.7 L761.5,302.6 L760.9,303.4 L760.2,304.1 L759.5,304.8 L758.7,305.5 L757.8,306.1 L757,306.7 L756,307.2 L755.1,307.7 L754.1,308.1 L753.1,308.5 L752.2,308.9 L751.2,309.2 L750.1,309.3 L748.9,309.5 L747.7,309.5 L746.5,309.5 L745.2,309.6 L744,309.6 L742.7,309.7 L741.4,309.9 L740.3,310.1 L739.2,310.4 L738.1,310.7 L737.1,311.1 L736.1,311.5 L735.1,311.9 L734.1,312.4 L733.2,312.9 L732.3,313.4 L731.4,314.1 L730.6,314.8 L729.7,315.5 L729,316.3 L728.3,317.2 L727.7,318.1 L727.1,319 L726.5,320 L725.9,320.9 L725.4,321.9 L724.8,322.9 L724.1,323.9 L723.4,325 L722.7,326.3 L721.9,327.6 L721.2,328.9 L720.5,330.2 L719.8,331.4 L719,332.6 L718.3,333.7 L717.6,334.6 L716.8,335.3 L716.1,335.9 L715.3,336.4 L714.4,336.9 L713.5,337.3 L712.6,337.6 L711.6,337.9 L710.6,338.2 L709.4,338.5 L708.3,338.8 L707.1,339.2 L705.9,339.5 L704.7,339.7 L703.3,339.9 L701.9,340.1 L700.4,340.4 L698.9,340.6 L697.4,340.8 L696,341.1 L694.6,341.5 L693.3,342 L692.1,342.5 L691.1,343 L690.1,343.6 L689.2,344.2 L688.3,344.8 L687.5,345.5 L686.7,346.3 L686,347.1 L685.3,347.9 L684.7,348.9 L684,350 L683.5,351.2 L683,352.4 L682.7,353.7 L682.3,355 L682.1,356.2 L681.8,357.3 L681.6,358.2 L681.4,359 L681.3,359.5Z" fill="#111"/>
<use href="#head" transform="translate(668.0 374.0) rotate(-40) scale(1.03)"/>
<path d="M618.8,487 L619.3,486.8 L619.9,486.6 L620.5,486.4 L621.2,486.1 L621.9,485.8 L622.7,485.6 L623.5,485.3 L624.3,485.1 L625.1,484.9 L625.9,484.7 L626.9,484.6 L627.9,484.4 L629,484.2 L630.1,484.1 L631.2,484 L632.3,483.9 L633.3,483.8 L634.4,483.8 L635.3,483.9 L636.2,484 L637,484.2 L637.8,484.4 L638.6,484.7 L639.4,485 L640.2,485.4 L641,485.8 L641.8,486.3 L642.6,486.8 L643.5,487.3 L644.4,487.9 L645.2,488.5 L646.1,489.2 L646.9,489.9 L647.9,490.8 L648.8,491.7 L649.8,492.6 L650.8,493.5 L651.8,494.4 L652.9,495.2 L653.9,495.8 L654.9,496.3 L655.8,496.8 L656.8,497.2 L657.7,497.6 L658.7,497.9 L659.7,498.1 L660.8,498.3 L661.9,498.3 L663.1,498.3 L664.3,498.2 L665.7,498 L667.1,497.7 L668.5,497.2 L670,496.7 L671.5,496.1 L673,495.5 L674.4,494.9 L675.8,494.3 L677.2,493.8 L678.5,493.2 L679.8,492.7 L681,492.1 L682.2,491.5 L683.4,490.9 L684.5,490.3 L685.5,489.8 L686.6,489.3 L687.6,489 L688.6,488.7 L689.6,488.5 L690.6,488.4 L691.6,488.4 L692.7,488.5 L693.8,488.6 L694.9,488.8 L696,489 L697.1,489.3 L698.2,489.7 L699.3,490 L700.5,490.4 L701.5,490.9 L702.6,491.5 L703.8,492.2 L704.9,493 L706.1,493.9 L707.3,494.7 L708.5,495.4 L709.7,496.1 L710.9,496.7 L712.2,497.1 L713.4,497.3 L714.6,497.4 L715.9,497.4 L717,497.4 L718.2,497.2 L719.4,497 L720.6,496.7 L721.7,496.4 L722.9,496.1 L724.1,495.7 L725.3,495.3 L726.6,494.7 L727.9,494 L729.2,493.3 L730.5,492.5 L731.8,491.8 L732.9,491.1 L734,490.5 L734.8,490 L735.5,489.6 L735.3,489.2 L734.6,489.6 L733.7,490 L732.7,490.6 L731.5,491.3 L730.2,491.9 L728.9,492.6 L727.5,493.2 L726.2,493.8 L724.9,494.3 L723.7,494.7 L722.6,495 L721.5,495.3 L720.3,495.5 L719.2,495.7 L718.1,495.9 L717,496 L715.8,496 L714.8,495.9 L713.7,495.8 L712.6,495.5 L711.6,495.1 L710.5,494.6 L709.4,493.9 L708.3,493.1 L707.2,492.3 L706.1,491.4 L704.9,490.5 L703.8,489.7 L702.6,489 L701.3,488.4 L700.2,487.9 L699,487.4 L697.8,487 L696.6,486.6 L695.4,486.3 L694.2,486 L693,485.8 L691.8,485.7 L690.5,485.7 L689.2,485.7 L688,485.9 L686.7,486.2 L685.5,486.6 L684.3,487.1 L683.1,487.6 L682,488.1 L680.8,488.7 L679.7,489.2 L678.5,489.7 L677.3,490.2 L676,490.6 L674.6,491.1 L673.1,491.7 L671.7,492.2 L670.2,492.7 L668.8,493.2 L667.4,493.6 L666.1,494 L664.9,494.2 L663.9,494.4 L662.9,494.4 L662.1,494.4 L661.3,494.3 L660.5,494.2 L659.8,494 L659.1,493.7 L658.4,493.4 L657.7,493.1 L656.9,492.6 L656.1,492.2 L655.3,491.7 L654.5,491 L653.7,490.3 L652.8,489.5 L651.9,488.6 L651,487.6 L650,486.7 L649,485.8 L648,484.9 L647,484.1 L646.1,483.5 L645.2,482.8 L644.2,482.3 L643.3,481.7 L642.4,481.2 L641.4,480.7 L640.4,480.2 L639.3,479.8 L638.2,479.5 L637,479.2 L635.8,479 L634.5,478.9 L633.3,478.9 L632,478.9 L630.7,479 L629.5,479.1 L628.3,479.2 L627.2,479.4 L626.1,479.5 L625.1,479.7 L624,479.9 L623,480.1 L622,480.4 L621.1,480.7 L620.2,480.9 L619.4,481.2 L618.7,481.5 L618.1,481.7 L617.6,481.9 L617.2,482Z" fill="#111"/>
<use href="#head" transform="translate(596.5 486.5) rotate(-6) scale(1.03)"/>
<text x="560.7" y="58.0" font-size="30" transform="rotate(45 560.7 58.0)"><tspan font-weight="bold" fill="#111" stroke="#111" stroke-width="0.7" letter-spacing="-0.8">Cumulus</tspan><tspan fill="#1c1c1c" stroke="#fff" stroke-width="0.55" letter-spacing="-0.6"> layer</tspan></text>
<text x="509.3" y="119.3" font-size="30" transform="rotate(45 509.3 119.3)"><tspan font-weight="bold" fill="#111" stroke="#111" stroke-width="0.7" letter-spacing="-0.8">Zona</tspan><tspan fill="#1c1c1c" stroke="#c2d7e6" stroke-width="0.55" letter-spacing="-0.6"> pellucida</tspan></text>
<text x="454.5" y="180.1" font-size="30" transform="rotate(45 454.5 180.1)"><tspan font-weight="bold" fill="#111" stroke="#111" stroke-width="0.7" letter-spacing="-0.8">Egg</tspan><tspan fill="#1c1c1c" stroke="#e2dad6" stroke-width="0.55" letter-spacing="-0.6"> Membrane</tspan></text>
<g fill="#fff" opacity="0.5"><use href="#logo" transform="translate(152.8 274.5) scale(1.06)"/><use href="#logo" transform="translate(595.1 403.5) scale(1.07)"/><use href="#logo" transform="translate(4.4 662.5) scale(1.07)"/><use href="#ga" transform="translate(341 140.2) scale(0.69 0.735)"/><use href="#ga" transform="translate(491 269.2) scale(0.69 0.735)"/><use href="#ga" transform="translate(41 399.2) scale(0.69 0.735)"/><use href="#ga" transform="translate(341 399.2) scale(0.69 0.735)"/><use href="#ga" transform="translate(191 529.2) scale(0.69 0.735)"/><use href="#ga" transform="translate(491 529.2) scale(0.69 0.735)"/><use href="#ga" transform="translate(341 659.2) scale(0.69 0.735)"/><use href="#ga" transform="translate(941 399.2) scale(0.69 0.735)"/></g>
<rect x="0" y="780" width="1300" height="90" fill="#000"/>
<use href="#logo" fill="#fff" transform="translate(50.2 840.3)"/>
<text x="1250" y="817" font-size="14.2" fill="#fff" text-anchor="end">Image ID: 2XA554F</text>
<text x="1250" y="840.5" font-size="17.4" font-weight="bold" fill="#fff" text-anchor="end">www.alamy.com</text>
</svg>
</body></html>
